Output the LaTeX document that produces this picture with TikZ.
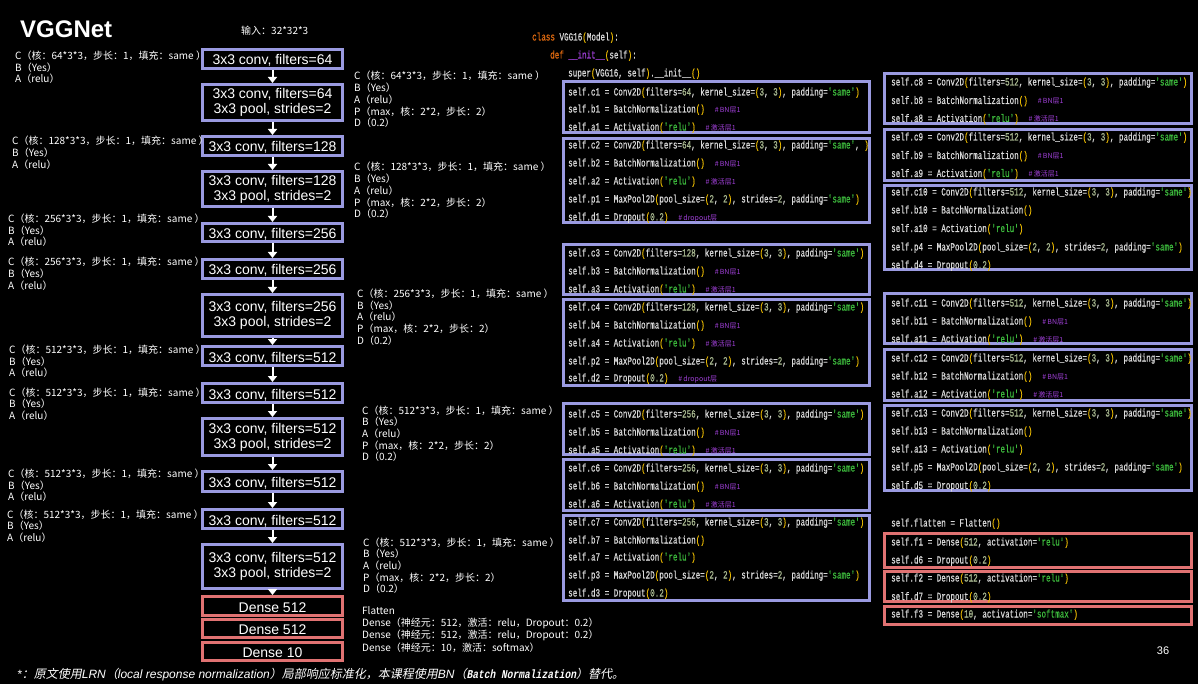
\documentclass[tikz,border=0pt]{standalone}
\usepackage{fontspec}
\usetikzlibrary{arrows.meta}
\setmainfont{Liberation Sans}
\newfontfamily\cjk{Noto Sans CJK SC}
\newfontfamily\cjksl[FakeSlant=0.2]{Noto Sans CJK SC}
\newfontfamily\codefont[FakeStretch=0.69,FakeBold=0.6,Ligatures=TeXOff]{Liberation Mono}
\newfontfamily\fnmono[FakeSlant=0.2,FakeStretch=0.8]{Liberation Mono}
\definecolor{lav}{HTML}{9A9AE0}
\definecolor{sal}{HTML}{E07272}
\definecolor{ctext}{HTML}{D8D8D8}
\definecolor{cy}{HTML}{E8B800}
\definecolor{cn}{HTML}{A8B890}
\definecolor{cs}{HTML}{3CB83C}
\definecolor{cc}{HTML}{A040D8}
\definecolor{ck}{HTML}{E06A10}
\newcommand\cY[1]{\textcolor{cy}{#1}}
\newcommand\cN[1]{\textcolor{cn}{#1}}
\newcommand\cS[1]{\textcolor{cs}{#1}}
\newcommand\cK[1]{\textcolor{ck}{#1}}
\newcommand\cP[1]{\textcolor{cc}{#1}}
\newcommand\cmt[1]{\hspace{10pt}{\color{cc}\fontsize{7}{7}\cjk\#\,#1}}
\newcommand\convL[2]{self.#1 = Conv2D\cY{(}filters=\cN{#2}, kernel\_size=\cY{(}\cN{3}, \cN{3}\cY{)}, padding=\cS{'same'}\cY{)}}
\newcommand\bnL[1]{self.#1 = BatchNormalization\cY{()}}
\newcommand\actL[1]{self.#1 = Activation\cY{(}\cS{'relu'}\cY{)}}
\newcommand\poolL[1]{self.#1 = MaxPool2D\cY{(}pool\_size=\cY{(}\cN{2}, \cN{2}\cY{)}, strides=\cN{2}, padding=\cS{'same'}\cY{)}}
\newcommand\dropL[1]{self.#1 = Dropout\cY{(}\cN{0.2}\cY{)}}
\newcommand\denseL[3]{self.#1 = Dense\cY{(}\cN{#2}, activation=\cS{'#3'}\cY{)}}
\newcommand\cl[4]{\node[code] (#1) at (#2,#3) {#4};}
\newcommand\cb[6]{\node[cbox,draw=#6,minimum width={#4-#2-3},minimum height={#5-#3-3}] (#1) at ({(#2+#4)/2},{(#3+#5)/2}) {};}
\newcommand\CBA[4]{%
\node[lab] (#1c) at (#2,#3) {C（核：#4，步长：1，填充：same ）};
\node[lab] (#1b) at (#2,#3+11.7) {B（Yes）};
\node[lab] (#1a) at (#2,#3+23.4) {A（relu）};}
\newcommand\CBAPD[4]{\CBA{#1}{#2}{#3}{#4}
\node[lab] (#1p) at (#2,#3+35.1) {P（max，核：2*2，步长：2）};
\node[lab] (#1d) at (#2,#3+46.8) {D（0.2）};}
\tikzset{
  lab/.style={text=white,font=\fontsize{10}{12}\cjk,inner sep=0,anchor=base west},
  code/.style={text=ctext,font=\fontsize{11}{13}\codefont,inner sep=0,anchor=base west},
  cbox/.style={line width=3pt,fill=black,inner sep=0},
  lbox/.style={draw=lav,line width=3pt,fill=black,text=white,minimum width=140pt,
    font=\fontsize{14}{15}\selectfont,align=center,inner sep=0},
  one/.style={text height=12pt,text depth=0pt},
  dbox/.style={lbox,draw=sal,one,minimum height=19pt},
  arr/.style={white,line width=2pt,-{Triangle[width=9pt,length=6pt]}}
}
\begin{document}
\begin{tikzpicture}[x=1pt,y=-1pt]
\useasboundingbox (0,0) rectangle (1198,684);
\fill[black] (0,0) rectangle (1198,684);
% title
\node[text=white,font=\fontsize{24}{26}\bfseries,inner sep=0,anchor=base west] (title) at (20,38) {VGGNet};
\node[lab] (inp) at (241,35) {输入：32*32*3};
% main column
\node[lbox,one,minimum height=19pt] (b1) at (272.5,59) {3x3 conv, filters=64};
\node[lbox,minimum height=36pt] (b2) at (272.5,102.5) {3x3 conv, filters=64\\3x3 pool, strides=2};
\node[lbox,one,minimum height=19pt] (b3) at (272.5,146) {3x3 conv, filters=128};
\node[lbox,minimum height=35pt] (b4) at (272.5,189) {3x3 conv, filters=128\\3x3 pool, strides=2};
\node[lbox,one,minimum height=18pt] (b5) at (272.5,232.5) {3x3 conv, filters=256};
\node[lbox,one,minimum height=19pt] (b6) at (272.5,269) {3x3 conv, filters=256};
\node[lbox,minimum height=42pt] (b7) at (272.5,315.5) {3x3 conv, filters=256\\3x3 pool, strides=2};
\node[lbox,one,minimum height=19pt] (b8) at (272.5,356) {3x3 conv, filters=512};
\node[lbox,one,minimum height=19pt] (b9) at (272.5,393) {3x3 conv, filters=512};
\node[lbox,minimum height=37pt] (b10) at (272.5,437) {3x3 conv, filters=512\\3x3 pool, strides=2};
\node[lbox,one,minimum height=20pt] (b11) at (272.5,481.5) {3x3 conv, filters=512};
\node[lbox,one,minimum height=19pt] (b12) at (272.5,519) {3x3 conv, filters=512};
\node[lbox,minimum height=44pt] (b13) at (272.5,566.5) {3x3 conv, filters=512\\3x3 pool, strides=2};
\node[dbox] (d1) at (272.5,606) {Dense 512};
\node[dbox,minimum height=18pt] (d2) at (272.5,628.5) {Dense 512};
\node[dbox,minimum height=18pt] (d3) at (272.5,651.5) {Dense 10};
\foreach \a/\b in {b1/b2,b2/b3,b3/b4,b4/b5,b5/b6,b6/b7,b7/b8,b8/b9,b9/b10,b10/b11,b11/b12,b12/b13,b13/d1}
  \draw[arr] (\a) -- (\b);
% left annotations
\CBA{La}{15}{59.5}{64*3*3}
\CBA{Lb}{12}{145}{128*3*3}
\CBA{Lc}{8}{222.5}{256*3*3}
\CBA{Ld}{8}{266}{256*3*3}
\CBA{Le}{9}{353.5}{512*3*3}
\CBA{Lf}{9}{396}{512*3*3}
\CBA{Lg}{8}{477.5}{512*3*3}
\CBA{Lh}{7}{518}{512*3*3}
% right annotations
\CBAPD{Ra}{354}{80}{64*3*3}
\CBAPD{Rb}{354}{171}{128*3*3}
\CBAPD{Rc}{357}{297.5}{256*3*3}
\CBAPD{Rd}{362}{414}{512*3*3}
\CBAPD{Re}{363}{546}{512*3*3}
\node[lab] (fl0) at (362,614) {Flatten};
\node[lab] (fl1) at (362,626.5) {Dense（神经元：512，激活：relu，Dropout：0.2）};
\node[lab] (fl2) at (362,638.8) {Dense（神经元：512，激活：relu，Dropout：0.2）};
\node[lab] (fl3) at (362,651) {Dense（神经元：10，激活：softmax）};
% code boxes
\cb{cA}{562}{80}{871}{134}{lav}
\cb{cB}{562}{137}{871}{224}{lav}
\cb{cC}{562}{243}{871}{296}{lav}
\cb{cD}{562}{298}{871}{387}{lav}
\cb{cE}{562}{402}{871}{456}{lav}
\cb{cF}{562}{458}{871}{512}{lav}
\cb{cG}{562}{514}{871}{602}{lav}
\cb{cH}{883}{72}{1193}{125}{lav}
\cb{cI}{883}{128}{1193}{182}{lav}
\cb{cJ}{883}{184}{1193}{271}{lav}
\cb{cK}{883}{292}{1193}{345}{lav}
\cb{cL}{883}{348}{1193}{402}{lav}
\cb{cM}{883}{404}{1193}{492}{lav}
\cb{cN}{883}{532}{1193}{569}{sal}
\cb{cO}{883}{570}{1193}{603}{sal}
\cb{cP}{883}{605}{1193}{626}{sal}
% code text
\cl{k0}{532}{40.5}{\cK{class} VGG16\cY{(}Model\cY{)}:}
\cl{k00}{550}{58.5}{\cK{def} \cP{\_\_init\_\_}\cY{(}self\cY{)}:}
\cl{k000}{568}{76.5}{super\cY{(}VGG16, self\cY{)}.\_\_init\_\_\cY{()}}
\cl{k1}{568}{95.5}{\convL{c1}{64}}
\cl{k2}{568}{112.5}{\bnL{b1}\cmt{BN层1}}
\cl{k3}{568}{130.5}{\actL{a1}\cmt{激活层1}}
\cl{k4}{568}{148.5}{self.c2 = Conv2D\cY{(}filters=\cN{64}, kernel\_size=\cY{(}\cN{3}, \cN{3}\cY{)}, padding=\cS{'same'}, \cY{)}}
\cl{k5}{568}{166.5}{\bnL{b2}\cmt{BN层1}}
\cl{k6}{568}{184.5}{\actL{a2}\cmt{激活层1}}
\cl{k7}{568}{202.5}{\poolL{p1}}
\cl{k8}{568}{220.5}{\dropL{d1}\cmt{dropout层}}
\cl{k9}{568}{256.5}{\convL{c3}{128}}
\cl{k10}{568}{274.5}{\bnL{b3}\cmt{BN层1}}
\cl{k11}{568}{292.5}{\actL{a3}\cmt{激活层1}}
\cl{k12}{568}{310.5}{\convL{c4}{128}}
\cl{k13}{568}{328.5}{\bnL{b4}\cmt{BN层1}}
\cl{k14}{568}{346.5}{\actL{a4}\cmt{激活层1}}
\cl{k15}{568}{364.5}{\poolL{p2}}
\cl{k16}{568}{381.5}{\dropL{d2}\cmt{dropout层}}
\cl{k17}{568}{417.5}{\convL{c5}{256}}
\cl{k18}{568}{435.5}{\bnL{b5}\cmt{BN层1}}
\cl{k19}{568}{453.5}{\actL{a5}\cmt{激活层1}}
\cl{k20}{568}{471.5}{\convL{c6}{256}}
\cl{k21}{568}{489.5}{\bnL{b6}\cmt{BN层1}}
\cl{k22}{568}{507.5}{\actL{a6}\cmt{激活层1}}
\cl{k23}{568}{525.5}{\convL{c7}{256}}
\cl{k24}{568}{543.5}{\bnL{b7}}
\cl{k25}{568}{560.5}{\actL{a7}}
\cl{k26}{568}{578.5}{\poolL{p3}}
\cl{k27}{568}{596.5}{\dropL{d3}}
\cl{k28}{891}{85.5}{\convL{c8}{512}}
\cl{k29}{891}{104}{\bnL{b8}\cmt{BN层1}}
\cl{k30}{891}{122}{\actL{a8}\cmt{激活层1}}
\cl{k31}{891}{140.5}{\convL{c9}{512}}
\cl{k32}{891}{159}{\bnL{b9}\cmt{BN层1}}
\cl{k33}{891}{177}{\actL{a9}\cmt{激活层1}}
\cl{k34}{891}{195.5}{\convL{c10}{512}}
\cl{k35}{891}{213.5}{\bnL{b10}}
\cl{k36}{891}{232}{\actL{a10}}
\cl{k37}{891}{250.5}{\poolL{p4}}
\cl{k38}{891}{268.5}{\dropL{d4}}
\cl{k39}{891}{306.5}{\convL{c11}{512}}
\cl{k40}{891}{324.5}{\bnL{b11}\cmt{BN层1}}
\cl{k41}{891}{342.5}{\actL{a11}\cmt{激活层1}}
\cl{k42}{891}{361.5}{\convL{c12}{512}}
\cl{k43}{891}{379.5}{\bnL{b12}\cmt{BN层1}}
\cl{k44}{891}{397.5}{\actL{a12}\cmt{激活层1}}
\cl{k45}{891}{416.5}{\convL{c13}{512}}
\cl{k46}{891}{434.5}{\bnL{b13}}
\cl{k47}{891}{452.5}{\actL{a13}}
\cl{k48}{891}{470.5}{\poolL{p5}}
\cl{k49}{891}{489}{\dropL{d5}}
\cl{k50}{891}{526.5}{self.flatten = Flatten\cY{()}}
\cl{k51}{891}{545.5}{\denseL{f1}{512}{relu}}
\cl{k52}{891}{563.5}{\dropL{d6}}
\cl{k53}{891}{581.5}{\denseL{f2}{512}{relu}}
\cl{k54}{891}{600}{\dropL{d7}}
\cl{k55}{891}{617.5}{\denseL{f3}{10}{softmax}}
% page number & footnote
\node[text=white,font=\fontsize{11}{12}\selectfont,inner sep=0,anchor=base] (pg) at (1163,654) {36};
\node[text=white,font=\fontsize{12}{14}\selectfont,inner sep=0,anchor=base west] (fn) at (17,678)
 {{\itshape *}{\cjksl ：原文使用}{\itshape LRN}{\cjksl （}{\itshape local response normalization}{\cjksl ）局部响应标准化，本课程使用}{\itshape BN}{\cjksl （}{\fnmono\bfseries Batch Normalization}{\cjksl ）替代。}};
\end{tikzpicture}
\end{document}
